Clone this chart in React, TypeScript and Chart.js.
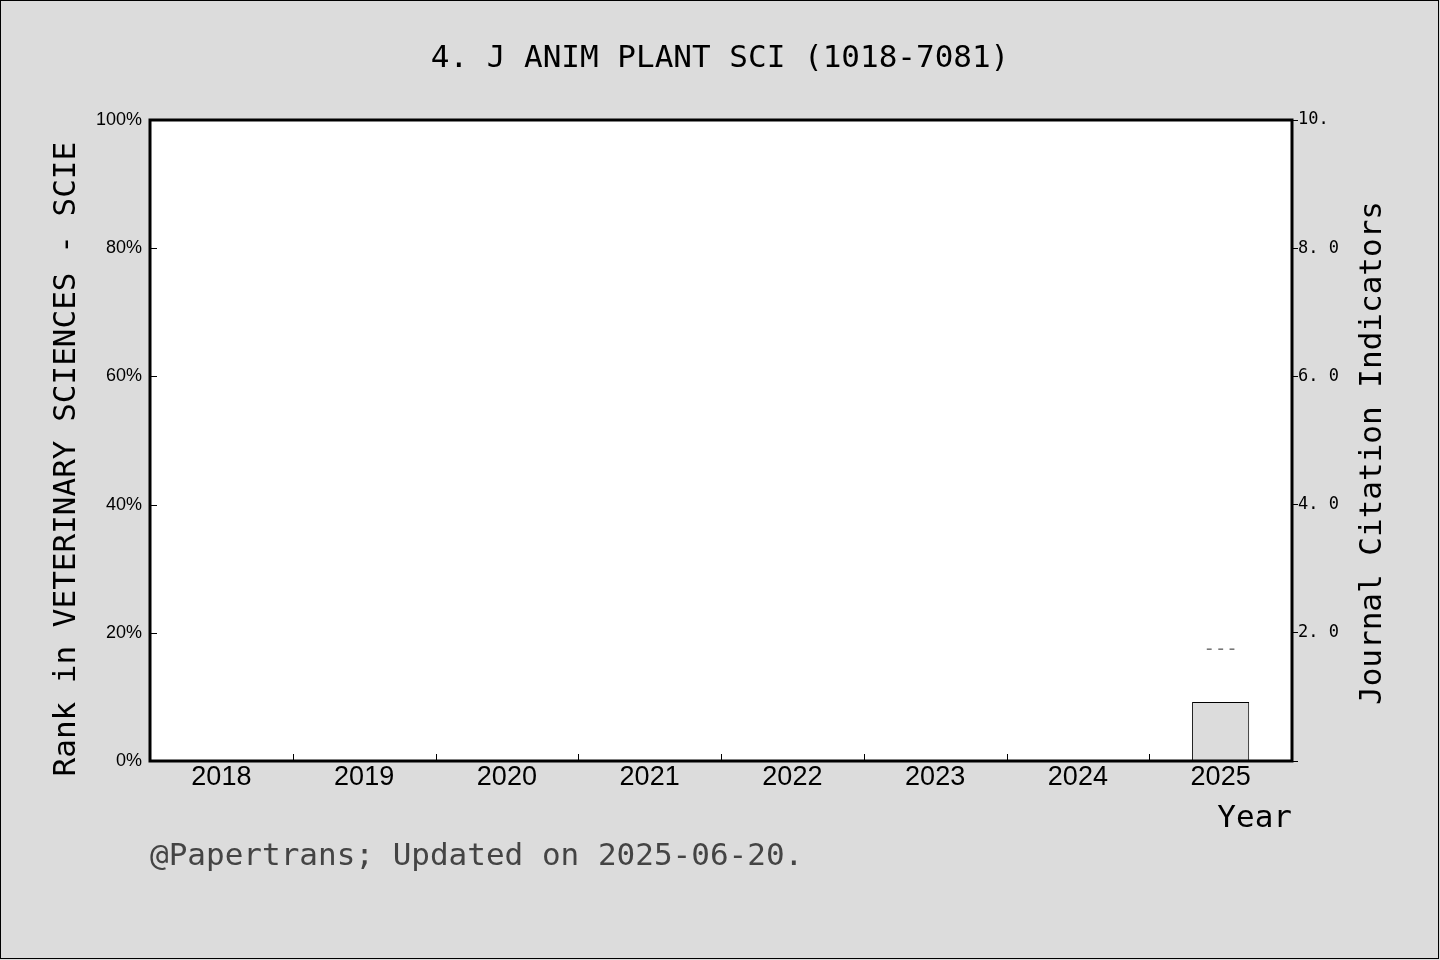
import React, { useEffect, useRef } from 'react';
import { Chart, registerables } from 'chart.js';

Chart.register(...registerables);

const years = ['2018', '2019', '2020', '2021', '2022', '2023', '2024', '2025'];
const rankPercent: (number | null)[] = [null, null, null, null, null, null, null, null];
const jciValues: (number | null)[] = [null, null, null, null, null, null, null, 0.92];
const rankLabels = ['', '', '', '', '', '', '', '---'];
const jciTickLabels = ['', '2. 0', '4. 0', '6. 0', '8. 0', '10.'];

const chartTitle = '4. J ANIM PLANT SCI (1018-7081)';
const leftTitle = 'Rank in VETERINARY SCIENCES - SCIE  ';
const rightTitle = 'Journal Citation Indicators';
const footerText = '@Papertrans; Updated on 2025-06-20.';

const MONO = "'DejaVu Sans Mono', monospace";
const SANS = "'Liberation Sans', Arial, sans-serif";

// grey page, white plot area, outer border
const backgroundPlugin = {
    id: 'pageBackground',
    beforeDraw(chart: any) {
        const { ctx, width, height, chartArea } = chart;
        ctx.save();
        ctx.fillStyle = '#dcdcdc';
        ctx.fillRect(0, 0, width, height);
        ctx.strokeStyle = '#000';
        ctx.lineWidth = 1;
        ctx.strokeRect(0.5, 0.5, width - 2, height - 2);
        ctx.fillStyle = '#fff';
        ctx.fillRect(chartArea.left, chartArea.top, chartArea.right - chartArea.left, chartArea.bottom - chartArea.top);
        ctx.restore();
    },
};

// frame, inward tick marks, rank labels, right title and footer
const decorPlugin = {
    id: 'decor',
    afterDatasetsDraw(chart: any) {
        const { ctx, chartArea, scales } = chart;
        const x = scales.x;
        const y = scales.y;
        ctx.save();
        ctx.strokeStyle = '#000';
        ctx.lineWidth = 1;
        ctx.beginPath();
        y.ticks.forEach((t: any) => {
            const py = Math.round(y.getPixelForValue(t.value)) + 0.5;
            ctx.moveTo(chartArea.left, py);
            ctx.lineTo(chartArea.left + 7, py);
        });
        for (let i = 0; i < years.length - 1; i++) {
            const px = Math.round((x.getPixelForTick(i) + x.getPixelForTick(i + 1)) / 2) + 0.5;
            ctx.moveTo(px, chartArea.bottom);
            ctx.lineTo(px, chartArea.bottom - 7);
        }
        ctx.stroke();

        ctx.lineWidth = 3;
        ctx.strokeRect(chartArea.left, chartArea.top, chartArea.right - chartArea.left, chartArea.bottom - chartArea.top);

        const meta = chart.getDatasetMeta(0);
        ctx.fillStyle = '#777';
        ctx.font = `19px ${MONO}`;
        ctx.textAlign = 'center';
        ctx.textBaseline = 'middle';
        rankLabels.forEach((label, i) => {
            const el = meta.data[i];
            if (!label || !el) return;
            ctx.fillText(label, el.x, el.y - 52);
        });

        // right axis title reads bottom to top, like the left one
        ctx.save();
        ctx.translate(1373, 453);
        ctx.rotate(-Math.PI / 2);
        ctx.fillStyle = '#000';
        ctx.font = `31px ${MONO}`;
        ctx.fillText(rightTitle, 0, 0);
        ctx.restore();

        ctx.fillStyle = '#444';
        ctx.font = `31px ${MONO}`;
        ctx.textAlign = 'left';
        ctx.fillText(footerText, chartArea.left, 857);
        ctx.restore();
    },
};

const App: React.FC = () => {
    const chartRef = useRef<HTMLCanvasElement>(null);

    useEffect(() => {
        if (!chartRef.current) return;
        const chartInstance = new Chart(chartRef.current, {
            type: 'bar',
            data: {
                labels: years,
                datasets: [
                    {
                        type: 'bar',
                        label: 'JCI',
                        data: jciValues,
                        yAxisID: 'y1',
                        backgroundColor: '#dcdcdc',
                        borderColor: '#000',
                        borderWidth: 1,
                        barPercentage: 0.4,
                        categoryPercentage: 1,
                    },
                    {
                        type: 'line',
                        label: 'Rank',
                        data: rankPercent,
                        yAxisID: 'y',
                        borderColor: '#000',
                        pointRadius: 0,
                    } as any,
                ],
            },
            options: {
                responsive: false,
                animation: false,
                devicePixelRatio: 1,
                layout: { padding: 0 },
                plugins: {
                    legend: { display: false },
                    tooltip: { enabled: false },
                    title: {
                        display: true,
                        text: chartTitle,
                        color: '#000',
                        font: { family: MONO, size: 31, weight: 'normal' },
                        padding: { top: 40.4, bottom: 42.4 },
                    },
                },
                scales: {
                    x: {
                        grid: { display: false, drawTicks: false },
                        border: { display: false },
                        ticks: {
                            color: '#000',
                            font: { family: SANS, size: 27 },
                            padding: 0,
                            maxRotation: 0,
                        },
                        title: {
                            display: true,
                            text: 'Year',
                            align: 'end',
                            color: '#000',
                            font: { family: MONO, size: 31 },
                            padding: { top: 0, bottom: 122.4 },
                        },
                        afterFit: (scale: any) => {
                            scale.height = 199;
                        },
                    },
                    y: {
                        position: 'left',
                        min: 0,
                        max: 100,
                        grid: { display: false, drawTicks: false },
                        border: { display: false },
                        ticks: {
                            stepSize: 20,
                            color: '#000',
                            font: { family: SANS, size: 18 },
                            padding: 8,
                            callback: (value: any) => `${value}%`,
                        },
                        title: {
                            display: true,
                            text: leftTitle,
                            color: '#000',
                            font: { family: MONO, size: 31 },
                            padding: { top: 48.4, bottom: 0 },
                        },
                        afterFit: (scale: any) => {
                            scale.width = 150;
                        },
                    },
                    y1: {
                        position: 'right',
                        min: 0,
                        max: 10,
                        grid: {
                            drawOnChartArea: false,
                            drawTicks: true,
                            tickLength: 6,
                            color: '#000',
                        },
                        border: { display: false },
                        ticks: {
                            stepSize: 2,
                            color: '#000',
                            font: { family: MONO, size: 17 },
                            padding: 0,
                            callback: (_value: any, index: number) => jciTickLabels[index],
                        },
                        title: { display: false },
                        afterFit: (scale: any) => {
                            scale.width = 148;
                        },
                    },
                },
            },
            plugins: [backgroundPlugin, decorPlugin],
        });

        return () => {
            chartInstance.destroy();
        };
    }, []);

    return (
        <div style={{ position: 'fixed', left: 0, top: 0, width: 1440, height: 960 }}>
            <canvas ref={chartRef} width={1440} height={960} />
        </div>
    );
};

export default App;
